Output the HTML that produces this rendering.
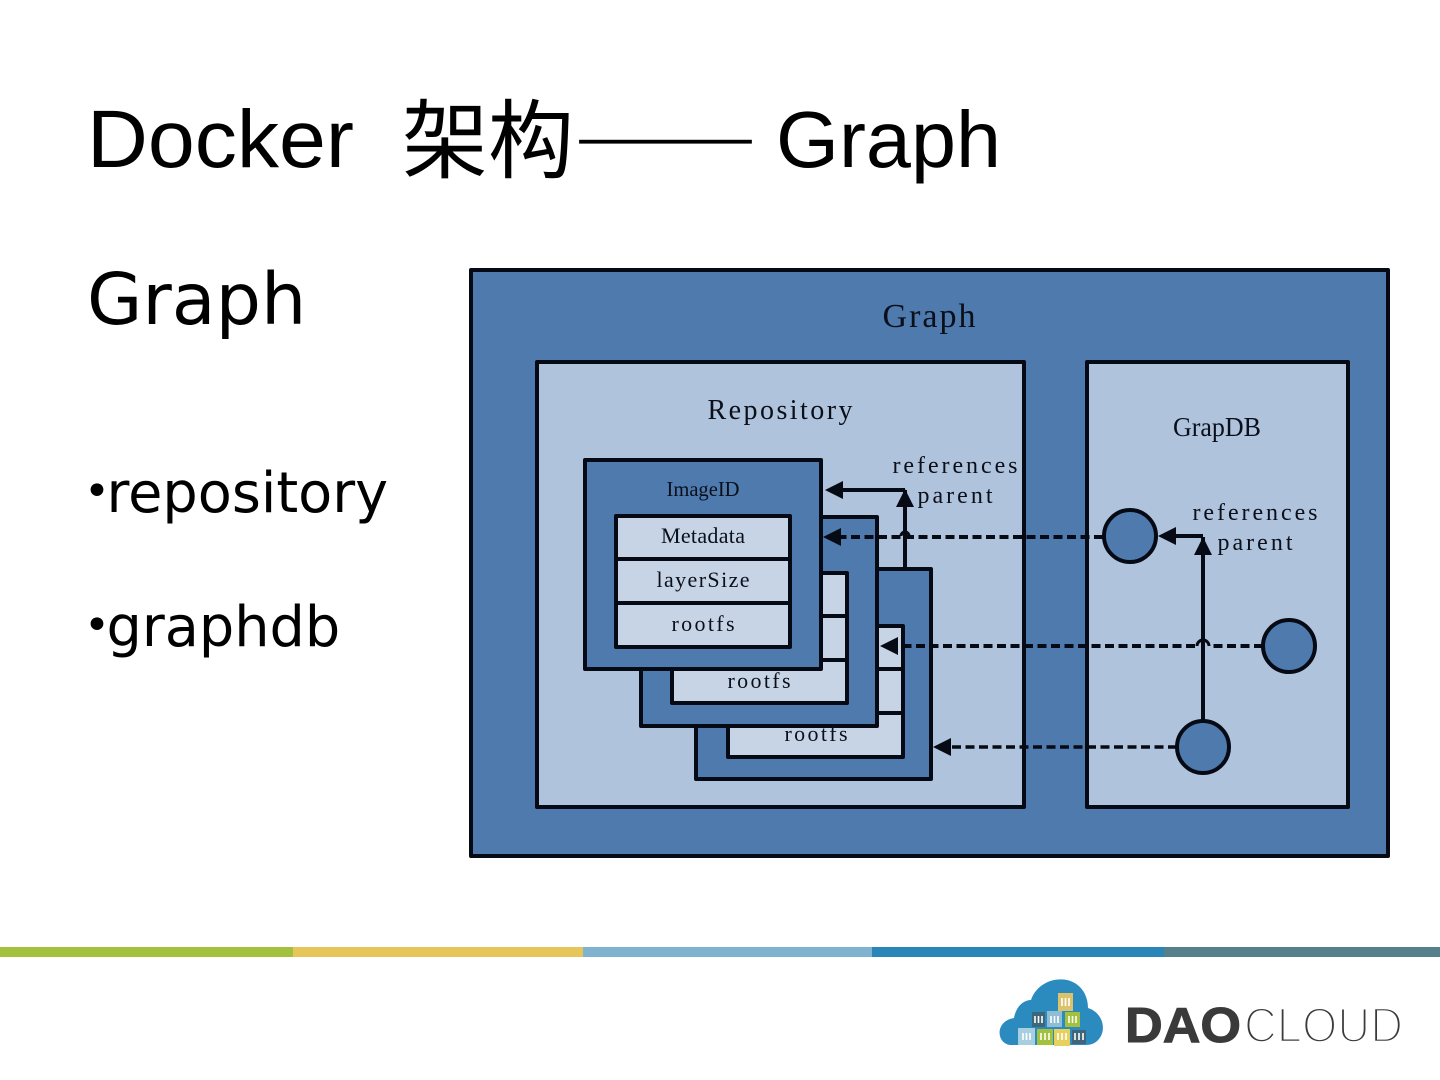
<!DOCTYPE html>
<html><head><meta charset="utf-8"><style>
html,body{margin:0;padding:0;background:#fff;width:1440px;height:1080px;overflow:hidden}
svg{display:block}
.t{font-family:"Liberation Sans","Noto Sans CJK SC",sans-serif;fill:#000}
.c{font-family:"WenQuanYi Zen Hei","Noto Sans CJK SC",sans-serif;fill:#000}
.m{font-family:"Noto Sans CJK SC",sans-serif;fill:#000}
.b{font-family:"DejaVu Sans",sans-serif;fill:#000}
.d{font-family:"Liberation Serif","Noto Serif CJK SC",serif;fill:#0a0f1a}
</style></head><body>
<svg width="1440" height="1080" viewBox="0 0 1440 1080" xmlns="http://www.w3.org/2000/svg">
<rect width="1440" height="1080" fill="#fff"/>
<text class="t" x="87" y="167" font-size="82" textLength="267" lengthAdjust="spacingAndGlyphs">Docker</text>
<text class="c" x="402" y="171" font-size="86">架构</text>
<text class="m" x="573" y="166" font-size="87" textLength="185" lengthAdjust="spacingAndGlyphs" stroke="#fff" stroke-width="1.600">——</text>
<text class="t" x="776" y="167" font-size="80" textLength="225" lengthAdjust="spacingAndGlyphs">Graph</text>
<text class="b" x="87" y="324" font-size="71.500">Graph</text>
<text class="b" x="84" y="506" font-size="44">•</text>
<text class="b" x="106.500" y="512" font-size="55.700">repository</text>
<text class="b" x="84" y="640" font-size="44">•</text>
<text class="b" x="106.500" y="646" font-size="55.700">graphdb</text>

<g stroke="#050a14" stroke-width="4" stroke-linejoin="round">
<rect x="471" y="270" width="917" height="586" fill="#4f7aae"/>
<rect x="537" y="362" width="487" height="445" fill="#b0c3dc"/>
<rect x="1087" y="362" width="261" height="445" fill="#b0c3dc"/>
<line x1="905" y1="569" x2="905" y2="490" fill="none"/>
<line x1="905" y1="490" x2="840" y2="490" fill="none"/>
<!-- image 3 -->
<rect x="696" y="569" width="235" height="210" fill="#4f7aae"/>
<rect x="728" y="626" width="175" height="131" fill="#c6d4e6"/>
<line x1="728" y1="669" x2="903" y2="669"/><line x1="728" y1="713" x2="903" y2="713"/>
<!-- image 2 -->
<rect x="641" y="517" width="236" height="209" fill="#4f7aae"/>
<rect x="672" y="573" width="175" height="130" fill="#c6d4e6"/>
<line x1="672" y1="616" x2="847" y2="616"/><line x1="672" y1="660" x2="847" y2="660"/>
<!-- image 1 -->
<rect x="585" y="460" width="236" height="209" fill="#4f7aae"/>
<rect x="616" y="516" width="174" height="131" fill="#c6d4e6"/>
<line x1="616" y1="559" x2="790" y2="559"/><line x1="616" y1="603" x2="790" y2="603"/>
</g>
<g text-anchor="middle">
<text class="d" x="929" y="327" font-size="34" textLength="93" lengthAdjust="spacing" text-anchor="middle">Graph</text>
<text class="d" x="780" y="419" font-size="28" textLength="145" lengthAdjust="spacing" text-anchor="middle">Repository</text>
<text class="d" x="1217" y="436" font-size="27" textLength="88" lengthAdjust="spacingAndGlyphs" text-anchor="middle">GrapDB</text>
<text class="d" x="703" y="496" font-size="21" textLength="73" lengthAdjust="spacingAndGlyphs" text-anchor="middle">ImageID</text>
<text class="d" x="703" y="543" font-size="22" textLength="84" lengthAdjust="spacing" text-anchor="middle">Metadata</text>
<text class="d" x="703" y="587" font-size="22" textLength="93" lengthAdjust="spacing" text-anchor="middle">layerSize</text>
<text class="d" x="703" y="631" font-size="22" textLength="63" lengthAdjust="spacing" text-anchor="middle">rootfs</text>
<text class="d" x="759" y="688" font-size="22" textLength="63" lengthAdjust="spacing" text-anchor="middle">rootfs</text>
<text class="d" x="816" y="741" font-size="22" textLength="63" lengthAdjust="spacing" text-anchor="middle">rootfs</text>
<text class="d" x="955" y="473" font-size="24" textLength="125" lengthAdjust="spacing" text-anchor="middle">references</text>
<text class="d" x="955" y="503" font-size="24" textLength="75" lengthAdjust="spacing" text-anchor="middle">parent</text>
<text class="d" x="1255" y="520" font-size="24" textLength="125" lengthAdjust="spacing" text-anchor="middle">references</text>
<text class="d" x="1255" y="550" font-size="24" textLength="75" lengthAdjust="spacing" text-anchor="middle">parent</text>
</g>
<g fill="none" stroke="#050a14" stroke-width="4" stroke-dasharray="9 4.500">
<path d="M1103 537H838"/>
<path d="M1263 646H1212M1195 646H895"/>
<path d="M1177 747H948" stroke-width="3.500"/>
</g>
<g fill="none" stroke="#050a14" stroke-width="4">
<path d="M1203 722V537"/><path d="M1203 536H1172"/>
<path d="M1197 646a6 6 0 0 1 12 0" stroke-width="3"/>
<path d="M901 536a4 4 0 0 1 8 0" stroke-width="3"/>
</g>
<g fill="#050a14">
<polygon points="825,490 843,481 843,499"/>
<polygon points="905,489 896,507 914,507"/>
<polygon points="823,537 841,528 841,546"/>
<polygon points="880,646 898,637 898,655"/>
<polygon points="933,747 951,738 951,756"/>
<polygon points="1158,536 1176,527 1176,545"/>
<polygon points="1203,537 1194,555 1212,555"/>
</g>
<g fill="#4f7aae" stroke="#050a14" stroke-width="4">
<circle cx="1130" cy="536" r="26"/>
<circle cx="1289" cy="646" r="26"/>
<circle cx="1203" cy="747" r="26"/>
</g>

<rect x="0" y="947" width="293" height="10" fill="#a3c13c"/>
<rect x="293" y="947" width="290" height="10" fill="#e6c659"/>
<rect x="583" y="947" width="289" height="10" fill="#80b3cf"/>
<rect x="872" y="947" width="292" height="10" fill="#2a86b8"/>
<rect x="1164" y="947" width="276" height="10" fill="#557f8a"/>

<!-- logo -->
<path d="M1010 1045C996 1043 995 1021 1014 1018C1016 1006 1024 1000 1031 1000C1036 985 1052 977 1067 980C1080 983 1088 994 1088 1008C1101 1012 1106 1026 1101 1036C1097 1043 1092 1045 1085 1045Z" fill="#2b8bbf"/>
<g>
<rect x="1058" y="993" width="15" height="18" fill="#dcc36b"/>
<rect x="1032" y="1012" width="13" height="15" fill="#3f6678"/>
<rect x="1047" y="1011" width="15" height="16" fill="#8fbdd6"/>
<rect x="1065" y="1012" width="15" height="15" fill="#a3c13c"/>
<rect x="1018" y="1028" width="17" height="17" fill="#a8cfe0"/>
<rect x="1037" y="1029" width="16" height="16" fill="#a3c13c"/>
<rect x="1054" y="1029" width="16" height="17" fill="#e6d060"/>
<rect x="1072" y="1030" width="14" height="14" fill="#3f6678"/>
</g>
<g fill="none" stroke="#fff" stroke-width="1.600">
<path d="M1062 998v8M1065.500 998v8M1069 998v8"/>
<path d="M1035 1016v7M1038.500 1016v7M1042 1016v7"/>
<path d="M1051 1016v7M1054.500 1016v7M1058 1016v7"/>
<path d="M1069 1016v7M1072.500 1016v7M1076 1016v7"/>
<path d="M1023 1033v7M1026.500 1033v7M1030 1033v7"/>
<path d="M1041 1033v7M1045 1033v7M1049 1033v7"/>
<path d="M1058 1033v7M1062 1033v7M1066 1033v7"/>
<path d="M1075 1033v7M1079 1033v7M1083 1033v7"/>
</g>
<text x="1125" y="1042" font-family="Liberation Sans, sans-serif" font-weight="700" font-size="49" fill="#3a3a3a" stroke="#3a3a3a" stroke-width="1" textLength="116" lengthAdjust="spacingAndGlyphs">DAO</text>
<text x="1244" y="1042" font-family="Liberation Sans, sans-serif" font-size="49" fill="#3a3a3a" stroke="#fff" stroke-width="2.600" textLength="159" lengthAdjust="spacingAndGlyphs">CLOUD</text>
</svg>
</body></html>
